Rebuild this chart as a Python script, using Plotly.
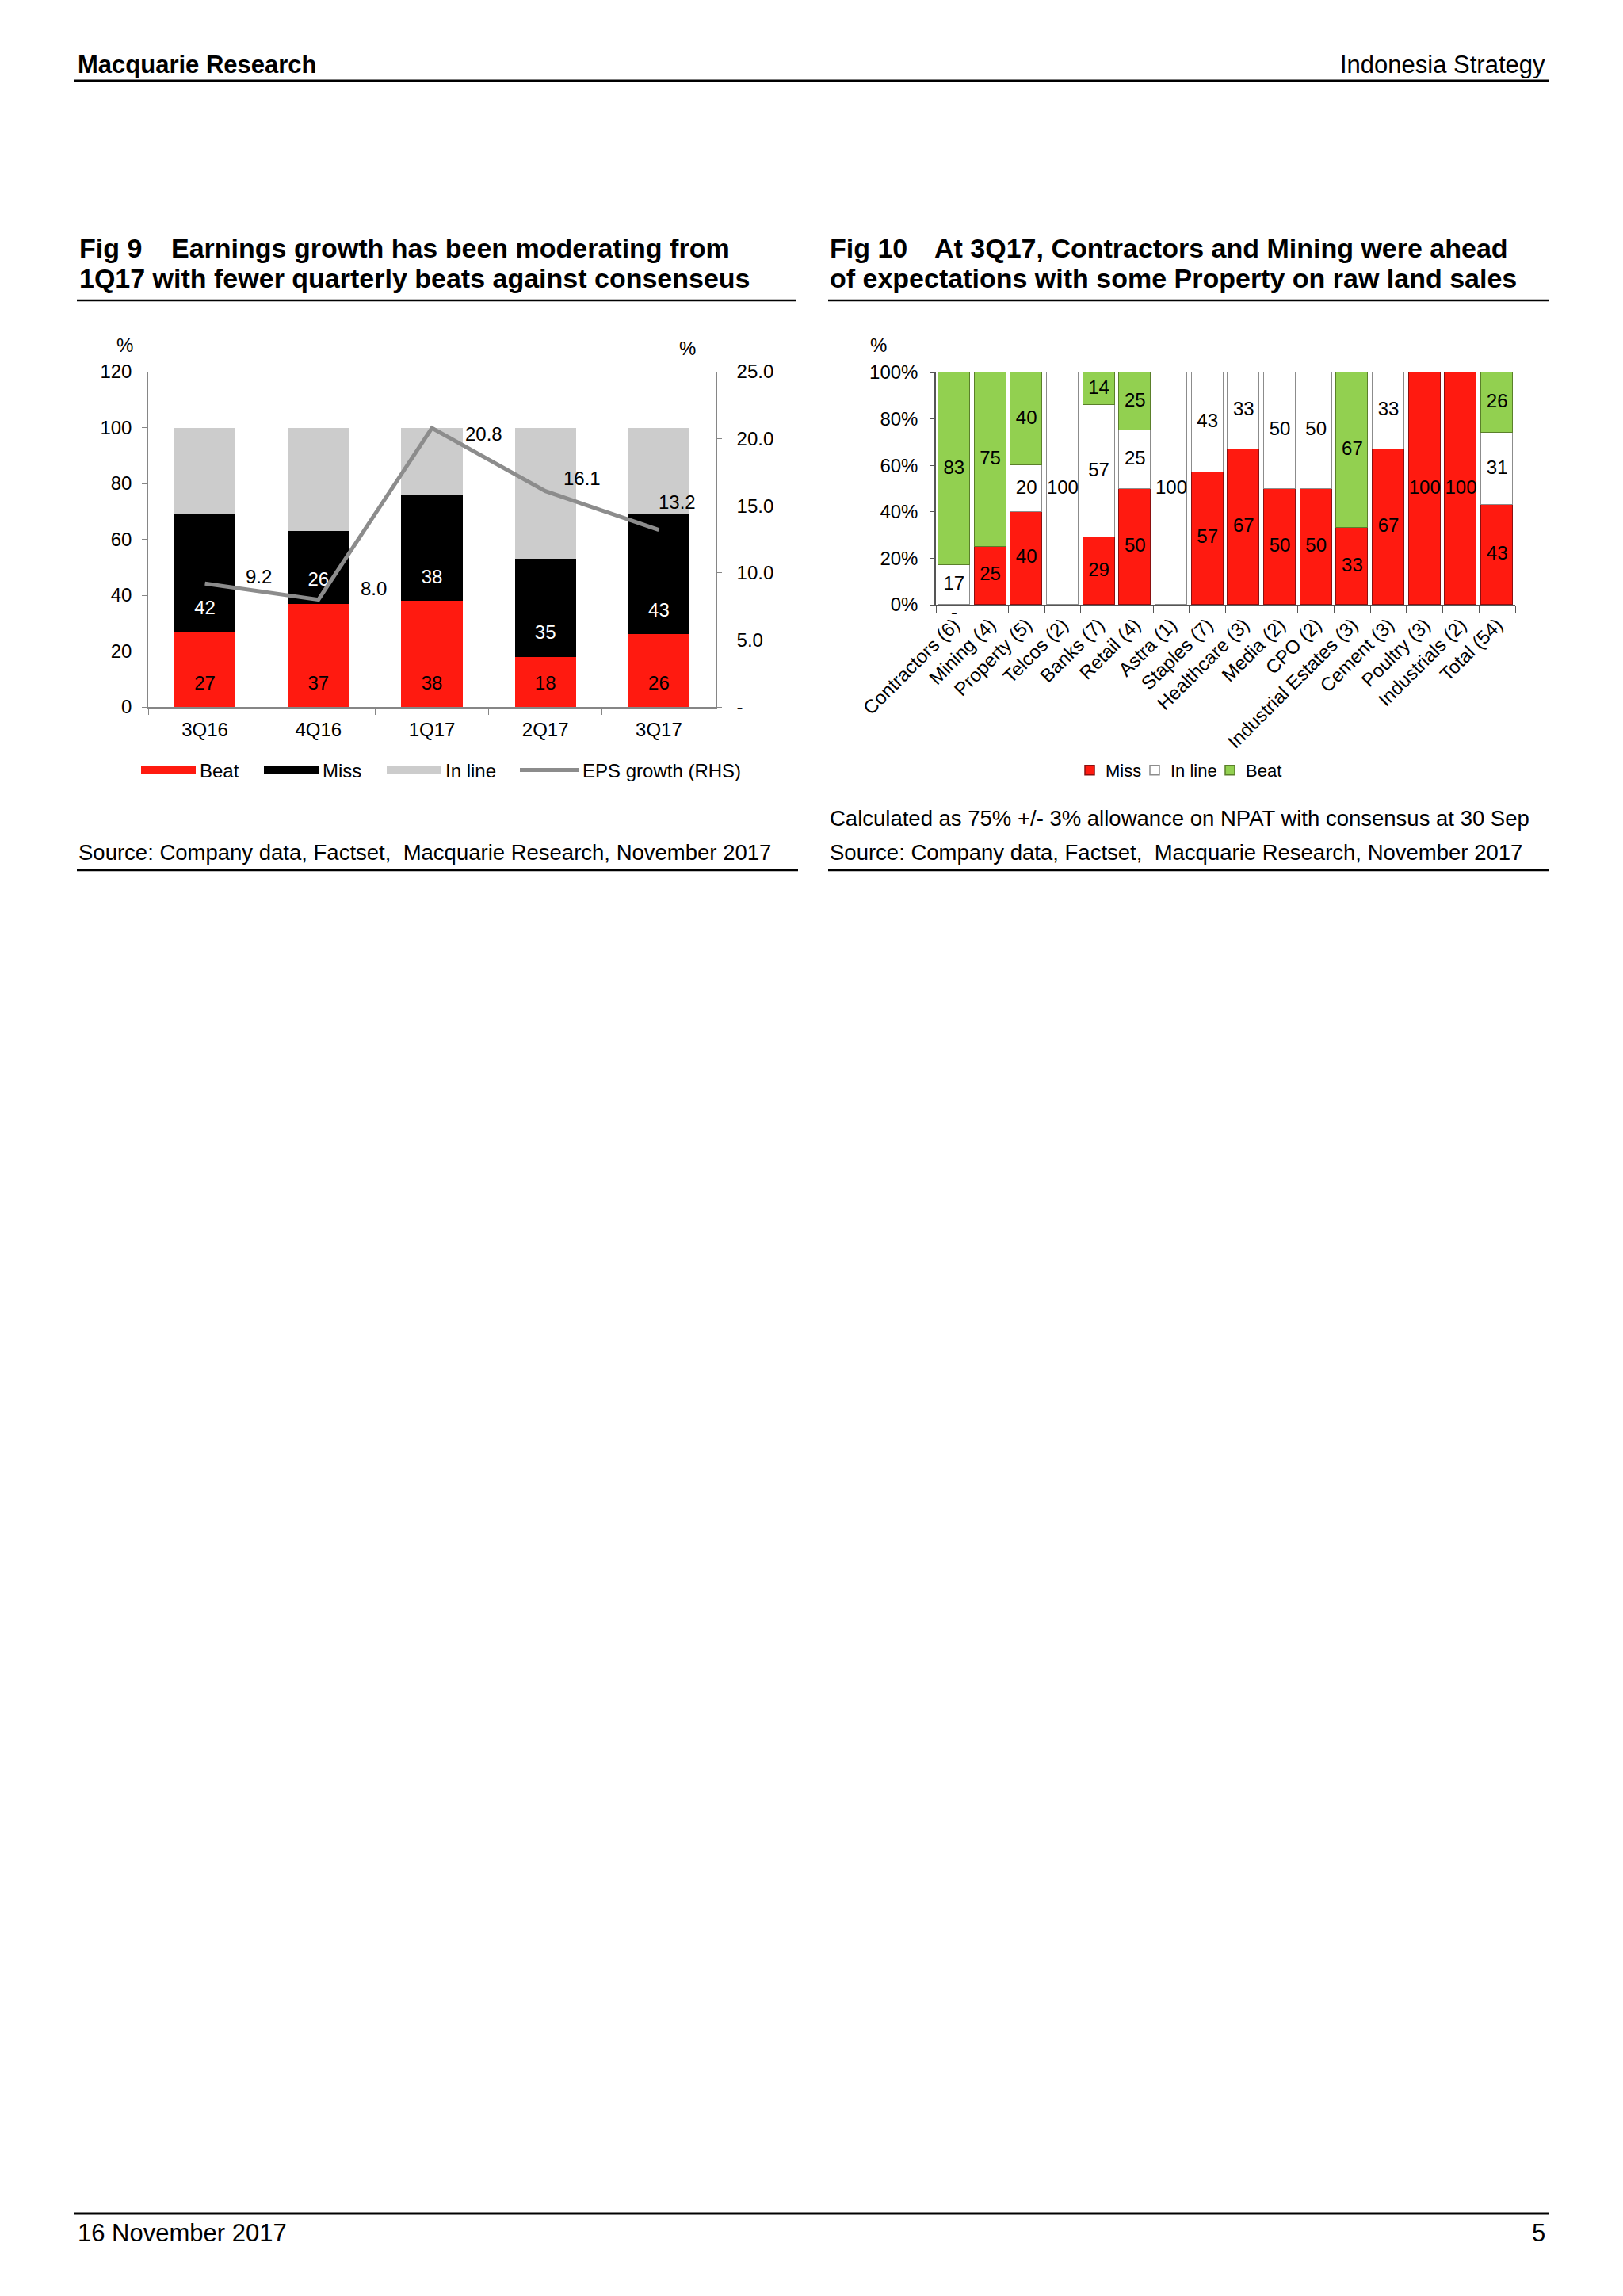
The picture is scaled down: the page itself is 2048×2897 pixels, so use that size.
import plotly.graph_objects as go

W, H = 2048, 2897
OFF = 8  # page body margin of the html page


def px(x):
    return (x - OFF) / W


def py(y):
    return 1 - (y - OFF) / H


FONT = "Liberation Sans, Arial, Helvetica, sans-serif"

# ---------------- Fig 9 data ----------------
quarters = ["3Q16", "4Q16", "1Q17", "2Q17", "3Q17"]
beat9 = [27, 37, 38, 18, 26]
miss9 = [42, 26, 38, 35, 43]
inline9 = [31, 37, 24, 47, 31]
eps_growth = [9.2, 8.0, 20.8, 16.1, 13.2]
lhs_tickvals = [0, 20, 40, 60, 80, 100, 120]
rhs_tickvals = [0, 5, 10, 15, 20, 25]
rhs_ticktext = ["-", "5.0", "10.0", "15.0", "20.0", "25.0"]
# label shifts (px) for EPS labels
eps_xshift = [68, 70, 65, 46, 23]
eps_yshift = [9, 14, -7, 16, 35]

# ---------------- Fig 10 data ----------------
sectors = ["Contractors (6)", "Mining (4)", "Property (5)", "Telcos (2)", "Banks (7)",
           "Retail (4)", "Astra (1)", "Staples (7)", "Healthcare (3)", "Media (2)",
           "CPO (2)", "Industrial Estates (3)", "Cement (3)", "Poultry (3)",
           "Industrials (2)", "Total (54)"]
miss10 = [0, 25, 40, 0, 29, 50, 0, 57, 67, 50, 50, 33, 67, 100, 100, 43]
inline10 = [17, 0, 20, 100, 57, 25, 100, 43, 33, 50, 50, 0, 33, 0, 0, 31]
beat10 = [83, 75, 40, 0, 14, 25, 0, 0, 0, 0, 0, 67, 0, 0, 0, 26]
pct_tickvals = [0, 20, 40, 60, 80, 100]
pct_ticktext = ["0%", "20%", "40%", "60%", "80%", "100%"]

RED = "#ff1a10"
BLACK = "#000000"
LGRAY = "#cccccc"
LINEGRAY = "#8c8c8c"
GREEN = "#92d050"
AXIS = "#868686"
CH = 24  # chart text size

fig = go.Figure()

# ---- Fig 9 bars ----
fig.add_trace(go.Bar(x=quarters, y=beat9, name="Beat", marker=dict(color=RED, line=dict(width=0)),
                     width=0.54, xaxis="x", yaxis="y", showlegend=False))
fig.add_trace(go.Bar(x=quarters, y=miss9, name="Miss", marker=dict(color=BLACK, line=dict(width=0)),
                     width=0.54, xaxis="x", yaxis="y", showlegend=False))
fig.add_trace(go.Bar(x=quarters, y=inline9, name="In line", marker=dict(color=LGRAY, line=dict(width=0)),
                     width=0.54, xaxis="x", yaxis="y", showlegend=False))
fig.add_trace(go.Scatter(x=quarters, y=eps_growth, name="EPS growth (RHS)", mode="lines",
                         line=dict(color=LINEGRAY, width=5), xaxis="x", yaxis="y2", legend="legend4"))

# legend entries drawn as wide swatches
for nm, col, lg in (("Beat", RED, "legend"), ("Miss", BLACK, "legend2"), ("In line", LGRAY, "legend3")):
    fig.add_trace(go.Scatter(x=[None], y=[None], mode="lines", name=nm, line=dict(color=col, width=14),
                             xaxis="x", yaxis="y", legend=lg, hoverinfo="skip"))

# data labels (inside-base placement)
fig.add_trace(go.Scatter(x=quarters, y=[8 for _ in beat9], mode="text", text=[str(v) for v in beat9],
                         textfont=dict(family=FONT, size=CH, color="#000000"), showlegend=False,
                         xaxis="x", yaxis="y", hoverinfo="skip"))
fig.add_trace(go.Scatter(x=quarters, y=[b + 8 for b in beat9], mode="text", text=[str(v) for v in miss9],
                         textfont=dict(family=FONT, size=CH, color="#ffffff"), showlegend=False,
                         xaxis="x", yaxis="y", hoverinfo="skip"))

for q, v, xs, ys in zip(quarters, eps_growth, eps_xshift, eps_yshift):
    fig.add_annotation(x=q, y=v, xref="x", yref="y2", text=f"{v:.1f}", showarrow=False,
                       xshift=xs, yshift=ys, font=dict(family=FONT, size=CH, color="#000000"))

# ---- Fig 10 bars ----
fig.add_trace(go.Bar(x=sectors, y=miss10, name="Miss", width=0.875,
                     marker=dict(color=RED, line=dict(color="#8a1010", width=1.5)),
                     xaxis="x2", yaxis="y3", legend="legend5"))
fig.add_trace(go.Bar(x=sectors, y=inline10, name="In line", width=0.875,
                     marker=dict(color="#ffffff", line=dict(color="#8c8c8c", width=1.5)),
                     xaxis="x2", yaxis="y3", legend="legend6"))
fig.add_trace(go.Bar(x=sectors, y=beat10, name="Beat", width=0.875,
                     marker=dict(color=GREEN, line=dict(color="#5a7f2a", width=1.5)),
                     xaxis="x2", yaxis="y3", legend="legend7"))

lab_x, lab_y, lab_t = [], [], []
for s, m, i, b in zip(sectors, miss10, inline10, beat10):
    for base, v in ((0, m), (m, i), (m + i, b)):
        if v > 0:
            lab_x.append(s)
            lab_y.append(base + v / 2)
            lab_t.append(str(v))
fig.add_trace(go.Scatter(x=lab_x, y=lab_y, mode="text", text=lab_t,
                         textfont=dict(family=FONT, size=CH, color="#000000"), showlegend=False,
                         xaxis="x2", yaxis="y3", hoverinfo="skip", cliponaxis=False))
# zero marker for Contractors miss
fig.add_annotation(x=sectors[0], y=miss10[0], xref="x2", yref="y3", text="-", showarrow=False,
                   yshift=-8, font=dict(family=FONT, size=CH, color="#000000"))

# ---- axes ----
axis_font = dict(family=FONT, size=CH, color="#000000")


def leg(x, y, iw=30, size=CH):
    return dict(orientation="h", x=px(x), y=py(y), xanchor="left", yanchor="middle",
                font=dict(family=FONT, size=size), bgcolor="rgba(0,0,0,0)", traceorder="normal",
                itemwidth=iw)


fig.update_layout(
    width=W, height=H, margin=dict(l=0, r=0, t=0, b=0, autoexpand=False),
    paper_bgcolor="#ffffff", plot_bgcolor="rgba(0,0,0,0)",
    barmode="stack", bargap=0,
    font=dict(family=FONT, size=CH, color="#000000"),
    xaxis=dict(domain=[px(187), px(903)], anchor="y", range=[-0.5, len(quarters) - 0.5],
               showgrid=False, showline=True, linecolor=AXIS,
               linewidth=1.5, ticks="outside", tickson="boundaries", ticklen=8, tickcolor=AXIS,
               tickfont=axis_font, zeroline=False, automargin=False, ticklabelstandoff=6),
    yaxis=dict(domain=[py(892), py(469)], anchor="x", range=[0, 120], tickvals=lhs_tickvals,
               showgrid=False, showline=True, linecolor=AXIS, linewidth=1.5, ticks="outside",
               ticklen=6, tickcolor=AXIS, tickfont=axis_font, zeroline=False, ticklabelstandoff=8,
               automargin=False),
    yaxis2=dict(overlaying="y", side="right", anchor="x", range=[0, 25], tickvals=rhs_tickvals,
                ticktext=rhs_ticktext, showgrid=False, showline=True, linecolor=AXIS, linewidth=1.5,
                ticks="outside", ticklen=6, tickcolor=AXIS, tickfont=axis_font, zeroline=False,
                ticklabelstandoff=14, automargin=False),
    xaxis2=dict(domain=[px(1181), px(1912)], anchor="y3", range=[-0.5, len(sectors) - 0.5],
                showgrid=False, showline=True,
                linecolor="#555555", linewidth=1.5, ticks="outside", tickson="boundaries", ticklen=8,
                tickcolor="#555555", tickangle=-45, tickfont=dict(family=FONT, size=CH, color="#000000"),
                zeroline=False, automargin=False),
    yaxis3=dict(domain=[py(763), py(470)], anchor="x2", range=[0, 100], tickvals=pct_tickvals,
                ticktext=pct_ticktext, showgrid=False, showline=True, linecolor="#555555",
                linewidth=1.5, ticks="outside", ticklen=6, tickcolor="#555555", tickfont=axis_font,
                zeroline=False, ticklabelstandoff=10, automargin=False),
    legend=leg(173, 972, 69),
    legend2=leg(328, 972, 69),
    legend3=leg(483, 972, 69),
    legend4=leg(651, 972, 74),
    legend5=leg(1355, 972, 30, 22),
    legend6=leg(1437, 972, 30, 22),
    legend7=leg(1532, 972, 30, 22),
    showlegend=True,
)

# ---- page text ----
def txt(x, y, s, size, bold=False, anchor="left", color="#000000"):
    if bold:
        s = f"<b>{s}</b>"
    fig.add_annotation(x=px(x), y=py(y), xref="paper", yref="paper", text=s, showarrow=False,
                       xanchor=anchor, yanchor="middle", font=dict(family=FONT, size=size, color=color))


txt(96, 81, "Macquarie Research", 31, bold=True)
txt(1952, 81, "Indonesia Strategy", 31, anchor="right")
txt(98, 313, "Fig 9", 34, bold=True)
txt(214, 313, "Earnings growth has been moderating from", 34, bold=True)
txt(98, 351, "1Q17 with fewer quarterly beats against consenseus", 34, bold=True)
txt(1045, 313, "Fig 10", 34, bold=True)
txt(1177, 313, "At 3Q17, Contractors and Mining were ahead", 34, bold=True)
txt(1045, 351, "of expectations with some Property on raw land sales", 34, bold=True)
txt(145, 436, "%", CH)
txt(855, 440, "%", CH)
txt(1096, 436, "%", CH)
txt(97, 1075, "Source: Company data, Factset,  Macquarie Research, November 2017", 27.5)
txt(1045, 1033, "Calculated as 75% +/- 3% allowance on NPAT with consensus at 30 Sep", 27.5)
txt(1045, 1075, "Source: Company data, Factset,  Macquarie Research, November 2017", 27.5)
txt(96, 2817, "16 November 2017", 31)
txt(1952, 2817, "5", 31, anchor="right")


def hline(x0, x1, y, w=2.5):
    fig.add_shape(type="line", xref="paper", yref="paper", x0=px(x0), x1=px(x1), y0=py(y), y1=py(y),
                  line=dict(color="#000000", width=w))


hline(93, 1955, 102, 3)
hline(97, 1005, 379, 2.5)
hline(1045, 1955, 379, 2.5)
hline(97, 1007, 1098, 2.5)
hline(1045, 1955, 1098, 2.5)
hline(93, 1955, 2793, 3)

fig.write_html("out.html")
